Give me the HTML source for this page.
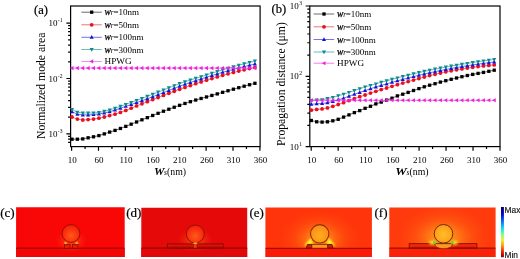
<!DOCTYPE html>
<html><head><meta charset="utf-8"><title>Figure</title>
<style>html,body{margin:0;padding:0;background:#fff}svg{display:block;filter:blur(0.3px)}</style></head>
<body>
<svg width="520" height="259" viewBox="0 0 520 259">
<rect width="520" height="259" fill="#fff"/>
<defs>
<linearGradient id="cb" x1="0" y1="0" x2="0" y2="1">
<stop offset="0" stop-color="#00006e"/><stop offset="0.14" stop-color="#0000d8"/><stop offset="0.3" stop-color="#0078ff"/>
<stop offset="0.42" stop-color="#00e0f0"/><stop offset="0.54" stop-color="#70ff90"/><stop offset="0.66" stop-color="#f0f020"/>
<stop offset="0.78" stop-color="#ff9000"/><stop offset="0.89" stop-color="#ff1400"/><stop offset="1" stop-color="#7a0000"/>
</linearGradient>
<radialGradient id="gc" cx="0.5" cy="0.62" r="0.6"><stop offset="0" stop-color="#ff5a18"/><stop offset="1" stop-color="#fb1a0a"/></radialGradient>
<radialGradient id="gd" cx="0.5" cy="0.62" r="0.6"><stop offset="0" stop-color="#ff5a18"/><stop offset="1" stop-color="#f61c0c"/></radialGradient>
<radialGradient id="ge" cx="0.5" cy="0.6" r="0.6"><stop offset="0" stop-color="#ffb020"/><stop offset="1" stop-color="#ff8614"/></radialGradient>
<radialGradient id="gf" cx="0.5" cy="0.55" r="0.6"><stop offset="0" stop-color="#ffc028"/><stop offset="1" stop-color="#ff9416"/></radialGradient>
<radialGradient id="glowc"><stop offset="0" stop-color="#ff6a18" stop-opacity="0.75"/><stop offset="1" stop-color="#ff3010" stop-opacity="0"/></radialGradient>
<radialGradient id="glowe"><stop offset="0" stop-color="#ff9618" stop-opacity="1"/><stop offset="0.3" stop-color="#ff7a14" stop-opacity="0.85"/><stop offset="0.6" stop-color="#ff5c10" stop-opacity="0.45"/><stop offset="1" stop-color="#ff440c" stop-opacity="0"/></radialGradient>
<radialGradient id="glowf"><stop offset="0" stop-color="#ffa41c" stop-opacity="1"/><stop offset="0.3" stop-color="#ff8416" stop-opacity="0.85"/><stop offset="0.6" stop-color="#ff6612" stop-opacity="0.45"/><stop offset="1" stop-color="#ff4c10" stop-opacity="0"/></radialGradient>
<radialGradient id="yel"><stop offset="0" stop-color="#fff62a"/><stop offset="0.55" stop-color="#ffe820" stop-opacity="0.95"/><stop offset="1" stop-color="#ffb010" stop-opacity="0"/></radialGradient>
<radialGradient id="grn"><stop offset="0" stop-color="#7cff38"/><stop offset="0.3" stop-color="#c8ff28"/><stop offset="0.6" stop-color="#fff020" stop-opacity="0.85"/><stop offset="1" stop-color="#ffb010" stop-opacity="0"/></radialGradient>
<radialGradient id="org"><stop offset="0" stop-color="#ffc030"/><stop offset="0.5" stop-color="#ff9020" stop-opacity="0.8"/><stop offset="1" stop-color="#ff5010" stop-opacity="0"/></radialGradient>
<clipPath id="cc"><rect x="16.1" y="207.3" width="108.6" height="49.7"/></clipPath>
<clipPath id="cd"><rect x="141.3" y="207.7" width="105.9" height="49.3"/></clipPath>
<clipPath id="ce"><rect x="265.4" y="207.6" width="106.5" height="49.4"/></clipPath>
<clipPath id="cf"><rect x="389.3" y="207.6" width="106.3" height="49.4"/></clipPath>
<filter id="bl" x="-50%" y="-50%" width="200%" height="200%"><feGaussianBlur stdDeviation="0.8"/></filter>
<filter id="bl2" x="-50%" y="-50%" width="200%" height="200%"><feGaussianBlur stdDeviation="0.45"/></filter>
</defs>
<rect x="70.6" y="6" width="189.50000000000003" height="140.6" fill="#fff" stroke="#000" stroke-width="1.2"/>
<path d="M71.60 146.6v4.2M85.05 146.6v2.5M98.50 146.6v4.2M111.95 146.6v2.5M125.40 146.6v4.2M138.85 146.6v2.5M152.30 146.6v4.2M165.75 146.6v2.5M179.20 146.6v4.2M192.65 146.6v2.5M206.10 146.6v4.2M219.55 146.6v2.5M233.00 146.6v4.2M246.45 146.6v2.5M259.90 146.6v4.2M70.6 23.15h-4.2M70.6 78.50h-4.2M70.6 133.85h-4.2M70.6 142.42h-2.5M70.6 139.21h-2.5M70.6 136.38h-2.5M70.6 117.19h-2.5M70.6 107.44h-2.5M70.6 100.53h-2.5M70.6 95.16h-2.5M70.6 90.78h-2.5M70.6 87.07h-2.5M70.6 83.86h-2.5M70.6 81.03h-2.5M70.6 61.84h-2.5M70.6 52.09h-2.5M70.6 45.18h-2.5M70.6 39.81h-2.5M70.6 35.43h-2.5M70.6 31.72h-2.5M70.6 28.51h-2.5M70.6 25.68h-2.5" stroke="#000" stroke-width="1.2" fill="none"/>
<g>
<path d="M72.00 139.20L77.38 139.20L82.76 138.90L88.14 137.80L93.52 136.80L98.90 135.60L104.28 133.90L109.66 132.10L115.04 130.40L120.42 128.46L125.80 126.36L131.18 124.18L136.56 121.97L141.94 119.80L147.32 117.65L152.70 115.48L158.08 113.32L163.46 111.23L168.84 109.22L174.22 107.24L179.60 105.32L184.98 103.47L190.36 101.70L195.74 100.04L201.12 98.47L206.50 96.95L211.88 95.44L217.26 93.90L222.64 92.32L228.02 90.75L233.40 89.20L238.78 87.69L244.16 86.20L249.54 84.74L254.92 83.30" stroke="#000000" stroke-width="0.6" fill="none"/><rect x="70.35" y="137.55" width="3.3" height="3.3" fill="#000000"/><rect x="75.73" y="137.55" width="3.3" height="3.3" fill="#000000"/><rect x="81.11" y="137.25" width="3.3" height="3.3" fill="#000000"/><rect x="86.49" y="136.15" width="3.3" height="3.3" fill="#000000"/><rect x="91.87" y="135.15" width="3.3" height="3.3" fill="#000000"/><rect x="97.25" y="133.95" width="3.3" height="3.3" fill="#000000"/><rect x="102.63" y="132.25" width="3.3" height="3.3" fill="#000000"/><rect x="108.01" y="130.45" width="3.3" height="3.3" fill="#000000"/><rect x="113.39" y="128.75" width="3.3" height="3.3" fill="#000000"/><rect x="118.77" y="126.81" width="3.3" height="3.3" fill="#000000"/><rect x="124.15" y="124.71" width="3.3" height="3.3" fill="#000000"/><rect x="129.53" y="122.53" width="3.3" height="3.3" fill="#000000"/><rect x="134.91" y="120.32" width="3.3" height="3.3" fill="#000000"/><rect x="140.29" y="118.15" width="3.3" height="3.3" fill="#000000"/><rect x="145.67" y="116.00" width="3.3" height="3.3" fill="#000000"/><rect x="151.05" y="113.83" width="3.3" height="3.3" fill="#000000"/><rect x="156.43" y="111.67" width="3.3" height="3.3" fill="#000000"/><rect x="161.81" y="109.58" width="3.3" height="3.3" fill="#000000"/><rect x="167.19" y="107.57" width="3.3" height="3.3" fill="#000000"/><rect x="172.57" y="105.59" width="3.3" height="3.3" fill="#000000"/><rect x="177.95" y="103.67" width="3.3" height="3.3" fill="#000000"/><rect x="183.33" y="101.82" width="3.3" height="3.3" fill="#000000"/><rect x="188.71" y="100.05" width="3.3" height="3.3" fill="#000000"/><rect x="194.09" y="98.39" width="3.3" height="3.3" fill="#000000"/><rect x="199.47" y="96.82" width="3.3" height="3.3" fill="#000000"/><rect x="204.85" y="95.30" width="3.3" height="3.3" fill="#000000"/><rect x="210.23" y="93.79" width="3.3" height="3.3" fill="#000000"/><rect x="215.61" y="92.25" width="3.3" height="3.3" fill="#000000"/><rect x="220.99" y="90.67" width="3.3" height="3.3" fill="#000000"/><rect x="226.37" y="89.10" width="3.3" height="3.3" fill="#000000"/><rect x="231.75" y="87.55" width="3.3" height="3.3" fill="#000000"/><rect x="237.13" y="86.04" width="3.3" height="3.3" fill="#000000"/><rect x="242.51" y="84.55" width="3.3" height="3.3" fill="#000000"/><rect x="247.89" y="83.09" width="3.3" height="3.3" fill="#000000"/><rect x="253.27" y="81.65" width="3.3" height="3.3" fill="#000000"/>
<path d="M72.00 117.00L77.38 119.10L82.76 120.00L88.14 119.60L93.52 119.10L98.90 118.20L104.28 117.00L109.66 115.60L115.04 114.20L120.42 112.43L125.80 110.39L131.18 108.20L136.56 105.96L141.94 103.80L147.32 101.70L152.70 99.59L158.08 97.48L163.46 95.40L168.84 93.33L174.22 91.27L179.60 89.30L184.98 87.41L190.36 85.55L195.74 83.72L201.12 81.94L206.50 80.21L211.88 78.53L217.26 76.90L222.64 75.32L228.02 73.81L233.40 72.38L238.78 71.04L244.16 69.78L249.54 68.60L254.92 67.50" stroke="#e8101e" stroke-width="0.6" fill="none"/><circle cx="72.00" cy="117.00" r="1.9" fill="#e8101e"/><circle cx="77.38" cy="119.10" r="1.9" fill="#e8101e"/><circle cx="82.76" cy="120.00" r="1.9" fill="#e8101e"/><circle cx="88.14" cy="119.60" r="1.9" fill="#e8101e"/><circle cx="93.52" cy="119.10" r="1.9" fill="#e8101e"/><circle cx="98.90" cy="118.20" r="1.9" fill="#e8101e"/><circle cx="104.28" cy="117.00" r="1.9" fill="#e8101e"/><circle cx="109.66" cy="115.60" r="1.9" fill="#e8101e"/><circle cx="115.04" cy="114.20" r="1.9" fill="#e8101e"/><circle cx="120.42" cy="112.43" r="1.9" fill="#e8101e"/><circle cx="125.80" cy="110.39" r="1.9" fill="#e8101e"/><circle cx="131.18" cy="108.20" r="1.9" fill="#e8101e"/><circle cx="136.56" cy="105.96" r="1.9" fill="#e8101e"/><circle cx="141.94" cy="103.80" r="1.9" fill="#e8101e"/><circle cx="147.32" cy="101.70" r="1.9" fill="#e8101e"/><circle cx="152.70" cy="99.59" r="1.9" fill="#e8101e"/><circle cx="158.08" cy="97.48" r="1.9" fill="#e8101e"/><circle cx="163.46" cy="95.40" r="1.9" fill="#e8101e"/><circle cx="168.84" cy="93.33" r="1.9" fill="#e8101e"/><circle cx="174.22" cy="91.27" r="1.9" fill="#e8101e"/><circle cx="179.60" cy="89.30" r="1.9" fill="#e8101e"/><circle cx="184.98" cy="87.41" r="1.9" fill="#e8101e"/><circle cx="190.36" cy="85.55" r="1.9" fill="#e8101e"/><circle cx="195.74" cy="83.72" r="1.9" fill="#e8101e"/><circle cx="201.12" cy="81.94" r="1.9" fill="#e8101e"/><circle cx="206.50" cy="80.21" r="1.9" fill="#e8101e"/><circle cx="211.88" cy="78.53" r="1.9" fill="#e8101e"/><circle cx="217.26" cy="76.90" r="1.9" fill="#e8101e"/><circle cx="222.64" cy="75.32" r="1.9" fill="#e8101e"/><circle cx="228.02" cy="73.81" r="1.9" fill="#e8101e"/><circle cx="233.40" cy="72.38" r="1.9" fill="#e8101e"/><circle cx="238.78" cy="71.04" r="1.9" fill="#e8101e"/><circle cx="244.16" cy="69.78" r="1.9" fill="#e8101e"/><circle cx="249.54" cy="68.60" r="1.9" fill="#e8101e"/><circle cx="254.92" cy="67.50" r="1.9" fill="#e8101e"/>
<path d="M72.00 111.80L77.38 114.20L82.76 114.90L88.14 114.90L93.52 114.60L98.90 113.90L104.28 113.00L109.66 111.80L115.04 110.00L120.42 108.18L125.80 106.35L131.18 104.50L136.56 102.62L141.94 100.70L147.32 98.73L152.70 96.72L158.08 94.67L163.46 92.60L168.84 90.45L174.22 88.26L179.60 86.20L184.98 84.28L190.36 82.43L195.74 80.63L201.12 78.89L206.50 77.19L211.88 75.53L217.26 73.90L222.64 72.31L228.02 70.78L233.40 69.31L238.78 67.90L244.16 66.55L249.54 65.24L254.92 64.00" stroke="#1414d8" stroke-width="0.6" fill="none"/><path d="M69.95 113.30L74.05 113.30L72.00 109.60Z" fill="#1414d8"/><path d="M75.33 115.70L79.43 115.70L77.38 112.00Z" fill="#1414d8"/><path d="M80.71 116.40L84.81 116.40L82.76 112.70Z" fill="#1414d8"/><path d="M86.09 116.40L90.19 116.40L88.14 112.70Z" fill="#1414d8"/><path d="M91.47 116.10L95.57 116.10L93.52 112.40Z" fill="#1414d8"/><path d="M96.85 115.40L100.95 115.40L98.90 111.70Z" fill="#1414d8"/><path d="M102.23 114.50L106.33 114.50L104.28 110.80Z" fill="#1414d8"/><path d="M107.61 113.30L111.71 113.30L109.66 109.60Z" fill="#1414d8"/><path d="M112.99 111.50L117.09 111.50L115.04 107.80Z" fill="#1414d8"/><path d="M118.37 109.68L122.47 109.68L120.42 105.98Z" fill="#1414d8"/><path d="M123.75 107.85L127.85 107.85L125.80 104.15Z" fill="#1414d8"/><path d="M129.13 106.00L133.23 106.00L131.18 102.30Z" fill="#1414d8"/><path d="M134.51 104.12L138.61 104.12L136.56 100.42Z" fill="#1414d8"/><path d="M139.89 102.20L143.99 102.20L141.94 98.50Z" fill="#1414d8"/><path d="M145.27 100.23L149.37 100.23L147.32 96.53Z" fill="#1414d8"/><path d="M150.65 98.22L154.75 98.22L152.70 94.52Z" fill="#1414d8"/><path d="M156.03 96.17L160.13 96.17L158.08 92.47Z" fill="#1414d8"/><path d="M161.41 94.10L165.51 94.10L163.46 90.40Z" fill="#1414d8"/><path d="M166.79 91.95L170.89 91.95L168.84 88.25Z" fill="#1414d8"/><path d="M172.17 89.76L176.27 89.76L174.22 86.06Z" fill="#1414d8"/><path d="M177.55 87.70L181.65 87.70L179.60 84.00Z" fill="#1414d8"/><path d="M182.93 85.78L187.03 85.78L184.98 82.08Z" fill="#1414d8"/><path d="M188.31 83.93L192.41 83.93L190.36 80.23Z" fill="#1414d8"/><path d="M193.69 82.13L197.79 82.13L195.74 78.43Z" fill="#1414d8"/><path d="M199.07 80.39L203.17 80.39L201.12 76.69Z" fill="#1414d8"/><path d="M204.45 78.69L208.55 78.69L206.50 74.99Z" fill="#1414d8"/><path d="M209.83 77.03L213.93 77.03L211.88 73.33Z" fill="#1414d8"/><path d="M215.21 75.40L219.31 75.40L217.26 71.70Z" fill="#1414d8"/><path d="M220.59 73.81L224.69 73.81L222.64 70.11Z" fill="#1414d8"/><path d="M225.97 72.28L230.07 72.28L228.02 68.58Z" fill="#1414d8"/><path d="M231.35 70.81L235.45 70.81L233.40 67.11Z" fill="#1414d8"/><path d="M236.73 69.40L240.83 69.40L238.78 65.70Z" fill="#1414d8"/><path d="M242.11 68.05L246.21 68.05L244.16 64.35Z" fill="#1414d8"/><path d="M247.49 66.74L251.59 66.74L249.54 63.04Z" fill="#1414d8"/><path d="M252.87 65.50L256.97 65.50L254.92 61.80Z" fill="#1414d8"/>
<path d="M72.00 109.50L77.38 112.20L82.76 113.00L88.14 113.00L93.52 113.00L98.90 112.50L104.28 111.30L109.66 110.00L115.04 108.20L120.42 106.32L125.80 104.39L131.18 102.42L136.56 100.42L141.94 98.40L147.32 96.34L152.70 94.24L158.08 92.12L163.46 90.00L168.84 87.83L174.22 85.64L179.60 83.60L184.98 81.76L190.36 80.04L195.74 78.36L201.12 76.63L206.50 74.89L211.88 73.17L217.26 71.50L222.64 69.88L228.02 68.29L233.40 66.75L238.78 65.27L244.16 63.83L249.54 62.44L254.92 61.10" stroke="#0a8a8a" stroke-width="0.6" fill="none"/><path d="M69.95 108.00L74.05 108.00L72.00 111.70Z" fill="#0a8a8a"/><path d="M75.33 110.70L79.43 110.70L77.38 114.40Z" fill="#0a8a8a"/><path d="M80.71 111.50L84.81 111.50L82.76 115.20Z" fill="#0a8a8a"/><path d="M86.09 111.50L90.19 111.50L88.14 115.20Z" fill="#0a8a8a"/><path d="M91.47 111.50L95.57 111.50L93.52 115.20Z" fill="#0a8a8a"/><path d="M96.85 111.00L100.95 111.00L98.90 114.70Z" fill="#0a8a8a"/><path d="M102.23 109.80L106.33 109.80L104.28 113.50Z" fill="#0a8a8a"/><path d="M107.61 108.50L111.71 108.50L109.66 112.20Z" fill="#0a8a8a"/><path d="M112.99 106.70L117.09 106.70L115.04 110.40Z" fill="#0a8a8a"/><path d="M118.37 104.82L122.47 104.82L120.42 108.52Z" fill="#0a8a8a"/><path d="M123.75 102.89L127.85 102.89L125.80 106.59Z" fill="#0a8a8a"/><path d="M129.13 100.92L133.23 100.92L131.18 104.62Z" fill="#0a8a8a"/><path d="M134.51 98.92L138.61 98.92L136.56 102.62Z" fill="#0a8a8a"/><path d="M139.89 96.90L143.99 96.90L141.94 100.60Z" fill="#0a8a8a"/><path d="M145.27 94.84L149.37 94.84L147.32 98.54Z" fill="#0a8a8a"/><path d="M150.65 92.74L154.75 92.74L152.70 96.44Z" fill="#0a8a8a"/><path d="M156.03 90.62L160.13 90.62L158.08 94.32Z" fill="#0a8a8a"/><path d="M161.41 88.50L165.51 88.50L163.46 92.20Z" fill="#0a8a8a"/><path d="M166.79 86.33L170.89 86.33L168.84 90.03Z" fill="#0a8a8a"/><path d="M172.17 84.14L176.27 84.14L174.22 87.84Z" fill="#0a8a8a"/><path d="M177.55 82.10L181.65 82.10L179.60 85.80Z" fill="#0a8a8a"/><path d="M182.93 80.26L187.03 80.26L184.98 83.96Z" fill="#0a8a8a"/><path d="M188.31 78.54L192.41 78.54L190.36 82.24Z" fill="#0a8a8a"/><path d="M193.69 76.86L197.79 76.86L195.74 80.56Z" fill="#0a8a8a"/><path d="M199.07 75.13L203.17 75.13L201.12 78.83Z" fill="#0a8a8a"/><path d="M204.45 73.39L208.55 73.39L206.50 77.09Z" fill="#0a8a8a"/><path d="M209.83 71.67L213.93 71.67L211.88 75.37Z" fill="#0a8a8a"/><path d="M215.21 70.00L219.31 70.00L217.26 73.70Z" fill="#0a8a8a"/><path d="M220.59 68.38L224.69 68.38L222.64 72.08Z" fill="#0a8a8a"/><path d="M225.97 66.79L230.07 66.79L228.02 70.49Z" fill="#0a8a8a"/><path d="M231.35 65.25L235.45 65.25L233.40 68.95Z" fill="#0a8a8a"/><path d="M236.73 63.77L240.83 63.77L238.78 67.47Z" fill="#0a8a8a"/><path d="M242.11 62.33L246.21 62.33L244.16 66.03Z" fill="#0a8a8a"/><path d="M247.49 60.94L251.59 60.94L249.54 64.64Z" fill="#0a8a8a"/><path d="M252.87 59.60L256.97 59.60L254.92 63.30Z" fill="#0a8a8a"/>
<path d="M72.00 68.10L77.38 68.10L82.76 68.10L88.14 68.10L93.52 68.10L98.90 68.10L104.28 68.10L109.66 68.10L115.04 68.10L120.42 68.10L125.80 68.10L131.18 68.10L136.56 68.10L141.94 68.10L147.32 68.10L152.70 68.10L158.08 68.10L163.46 68.10L168.84 68.10L174.22 68.10L179.60 68.10L184.98 68.10L190.36 68.10L195.74 68.10L201.12 68.10L206.50 68.10L211.88 68.10L217.26 68.10L222.64 68.10L228.02 68.10L233.40 68.10L238.78 68.10L244.16 68.10L249.54 68.10L254.92 68.10" stroke="#f020e0" stroke-width="0.6" fill="none"/><path d="M73.50 66.05L73.50 70.15L69.80 68.10Z" fill="#f020e0"/><path d="M78.88 66.05L78.88 70.15L75.18 68.10Z" fill="#f020e0"/><path d="M84.26 66.05L84.26 70.15L80.56 68.10Z" fill="#f020e0"/><path d="M89.64 66.05L89.64 70.15L85.94 68.10Z" fill="#f020e0"/><path d="M95.02 66.05L95.02 70.15L91.32 68.10Z" fill="#f020e0"/><path d="M100.40 66.05L100.40 70.15L96.70 68.10Z" fill="#f020e0"/><path d="M105.78 66.05L105.78 70.15L102.08 68.10Z" fill="#f020e0"/><path d="M111.16 66.05L111.16 70.15L107.46 68.10Z" fill="#f020e0"/><path d="M116.54 66.05L116.54 70.15L112.84 68.10Z" fill="#f020e0"/><path d="M121.92 66.05L121.92 70.15L118.22 68.10Z" fill="#f020e0"/><path d="M127.30 66.05L127.30 70.15L123.60 68.10Z" fill="#f020e0"/><path d="M132.68 66.05L132.68 70.15L128.98 68.10Z" fill="#f020e0"/><path d="M138.06 66.05L138.06 70.15L134.36 68.10Z" fill="#f020e0"/><path d="M143.44 66.05L143.44 70.15L139.74 68.10Z" fill="#f020e0"/><path d="M148.82 66.05L148.82 70.15L145.12 68.10Z" fill="#f020e0"/><path d="M154.20 66.05L154.20 70.15L150.50 68.10Z" fill="#f020e0"/><path d="M159.58 66.05L159.58 70.15L155.88 68.10Z" fill="#f020e0"/><path d="M164.96 66.05L164.96 70.15L161.26 68.10Z" fill="#f020e0"/><path d="M170.34 66.05L170.34 70.15L166.64 68.10Z" fill="#f020e0"/><path d="M175.72 66.05L175.72 70.15L172.02 68.10Z" fill="#f020e0"/><path d="M181.10 66.05L181.10 70.15L177.40 68.10Z" fill="#f020e0"/><path d="M186.48 66.05L186.48 70.15L182.78 68.10Z" fill="#f020e0"/><path d="M191.86 66.05L191.86 70.15L188.16 68.10Z" fill="#f020e0"/><path d="M197.24 66.05L197.24 70.15L193.54 68.10Z" fill="#f020e0"/><path d="M202.62 66.05L202.62 70.15L198.92 68.10Z" fill="#f020e0"/><path d="M208.00 66.05L208.00 70.15L204.30 68.10Z" fill="#f020e0"/><path d="M213.38 66.05L213.38 70.15L209.68 68.10Z" fill="#f020e0"/><path d="M218.76 66.05L218.76 70.15L215.06 68.10Z" fill="#f020e0"/><path d="M224.14 66.05L224.14 70.15L220.44 68.10Z" fill="#f020e0"/><path d="M229.52 66.05L229.52 70.15L225.82 68.10Z" fill="#f020e0"/><path d="M234.90 66.05L234.90 70.15L231.20 68.10Z" fill="#f020e0"/><path d="M240.28 66.05L240.28 70.15L236.58 68.10Z" fill="#f020e0"/><path d="M245.66 66.05L245.66 70.15L241.96 68.10Z" fill="#f020e0"/><path d="M251.04 66.05L251.04 70.15L247.34 68.10Z" fill="#f020e0"/><path d="M256.42 66.05L256.42 70.15L252.72 68.10Z" fill="#f020e0"/>
</g>
<g font-family="'Liberation Serif', serif" fill="#000">
<path d="M81.3 12.2H101.8" stroke="#000000" stroke-width="0.65" opacity="0.9"/><rect x="90.05" y="10.55" width="3.3" height="3.3" fill="#000000"/><text x="104.6" y="15.2" font-size="9"><tspan font-style="italic" font-size="9.6" stroke="#000" stroke-width="0.25">w</tspan><tspan font-style="italic" font-size="7.4" dx="-0.2">r</tspan><tspan dx="-0.3">=10nm</tspan></text><path d="M81.3 24.8H101.8" stroke="#e8101e" stroke-width="0.65" opacity="0.9"/><circle cx="91.70" cy="24.80" r="1.9" fill="#e8101e"/><text x="104.6" y="27.8" font-size="9"><tspan font-style="italic" font-size="9.6" stroke="#000" stroke-width="0.25">w</tspan><tspan font-style="italic" font-size="7.4" dx="-0.2">r</tspan><tspan dx="-0.3">=50nm</tspan></text><path d="M81.3 37.3H101.8" stroke="#1414d8" stroke-width="0.65" opacity="0.9"/><path d="M89.65 38.80L93.75 38.80L91.70 35.10Z" fill="#1414d8"/><text x="104.6" y="40.3" font-size="9"><tspan font-style="italic" font-size="9.6" stroke="#000" stroke-width="0.25">w</tspan><tspan font-style="italic" font-size="7.4" dx="-0.2">r</tspan><tspan dx="-0.3">=100nm</tspan></text><path d="M81.3 49.5H101.8" stroke="#0a8a8a" stroke-width="0.65" opacity="0.9"/><path d="M89.65 48.00L93.75 48.00L91.70 51.70Z" fill="#0a8a8a"/><text x="104.6" y="52.5" font-size="9"><tspan font-style="italic" font-size="9.6" stroke="#000" stroke-width="0.25">w</tspan><tspan font-style="italic" font-size="7.4" dx="-0.2">r</tspan><tspan dx="-0.3">=300nm</tspan></text><path d="M81.3 61.4H101.8" stroke="#f020e0" stroke-width="0.65" opacity="0.9"/><path d="M93.20 59.35L93.20 63.45L89.50 61.40Z" fill="#f020e0"/><text x="104.6" y="64.4" font-size="9.2">HPWG</text>
</g>
<g font-family="'Liberation Serif', serif" font-size="9" fill="#000">
<text x="72.20" y="162.5" text-anchor="middle">10</text><text x="99.10" y="162.5" text-anchor="middle">60</text><text x="126.00" y="162.5" text-anchor="middle">110</text><text x="152.90" y="162.5" text-anchor="middle">160</text><text x="179.80" y="162.5" text-anchor="middle">210</text><text x="206.70" y="162.5" text-anchor="middle">260</text><text x="233.60" y="162.5" text-anchor="middle">310</text><text x="260.50" y="162.5" text-anchor="middle">360</text>
<text x="48.6" y="26.3">10<tspan font-size="5.6" dy="-4.0" dx="0.2">-1</tspan></text>
<text x="48.6" y="81.7">10<tspan font-size="5.6" dy="-4.0" dx="0.2">-2</tspan></text>
<text x="48.6" y="137.0">10<tspan font-size="5.6" dy="-4.0" dx="0.2">-3</tspan></text>
</g>
<text font-family="'Liberation Serif', serif" font-size="12.6" x="34" y="13.6" stroke="#000" stroke-width="0.2">(a)</text>
<text font-family="'Liberation Serif', serif" font-size="11.7" text-anchor="middle" transform="translate(45.2 85.8) rotate(-90)">Normalized mode area</text>
<g font-family="'Liberation Serif', serif" fill="#000"><text transform="translate(154.0 174.7) scale(1.2 1)" font-size="9.8" font-style="italic" font-weight="bold">W</text><text x="164.1" y="174.9" font-size="7.6" font-style="italic">s</text><text x="167.0" y="174.7" font-size="9.8">(nm)</text></g>
<rect x="309.8" y="6" width="190.2" height="140.6" fill="#fff" stroke="#000" stroke-width="1.2"/>
<path d="M311.20 146.6v4.2M324.69 146.6v2.5M338.17 146.6v4.2M351.66 146.6v2.5M365.14 146.6v4.2M378.63 146.6v2.5M392.11 146.6v4.2M405.60 146.6v2.5M419.09 146.6v4.2M432.57 146.6v2.5M446.06 146.6v4.2M459.54 146.6v2.5M473.03 146.6v4.2M486.51 146.6v2.5M500.00 146.6v4.2M309.8 6.00h-4.2M309.8 76.30h-4.2M309.8 146.60h-4.2M309.8 125.44h-2.5M309.8 113.06h-2.5M309.8 104.28h-2.5M309.8 97.46h-2.5M309.8 91.90h-2.5M309.8 87.19h-2.5M309.8 83.11h-2.5M309.8 79.52h-2.5M309.8 55.14h-2.5M309.8 42.76h-2.5M309.8 33.98h-2.5M309.8 27.16h-2.5M309.8 21.60h-2.5M309.8 16.89h-2.5M309.8 12.81h-2.5M309.8 9.22h-2.5" stroke="#000" stroke-width="1.2" fill="none"/>
<g>
<path d="M311.30 120.50L316.68 121.80L322.06 122.10L327.44 121.80L332.82 120.80L338.20 119.30L343.58 117.10L348.96 114.90L354.34 112.60L359.72 110.60L365.10 108.30L370.48 106.30L375.86 103.90L381.24 102.10L386.62 100.10L392.00 98.20L397.38 95.90L402.76 94.20L408.14 92.40L413.52 90.50L418.90 88.60L424.28 86.80L429.66 85.20L435.04 83.70L440.42 82.10L445.80 80.70L451.18 79.30L456.56 78.00L461.94 76.70L467.32 75.50L472.70 74.40L478.08 73.40L483.46 72.40L488.84 71.30L494.22 70.20" stroke="#000000" stroke-width="0.6" fill="none"/><rect x="309.65" y="118.85" width="3.3" height="3.3" fill="#000000"/><rect x="315.03" y="120.15" width="3.3" height="3.3" fill="#000000"/><rect x="320.41" y="120.45" width="3.3" height="3.3" fill="#000000"/><rect x="325.79" y="120.15" width="3.3" height="3.3" fill="#000000"/><rect x="331.17" y="119.15" width="3.3" height="3.3" fill="#000000"/><rect x="336.55" y="117.65" width="3.3" height="3.3" fill="#000000"/><rect x="341.93" y="115.45" width="3.3" height="3.3" fill="#000000"/><rect x="347.31" y="113.25" width="3.3" height="3.3" fill="#000000"/><rect x="352.69" y="110.95" width="3.3" height="3.3" fill="#000000"/><rect x="358.07" y="108.95" width="3.3" height="3.3" fill="#000000"/><rect x="363.45" y="106.65" width="3.3" height="3.3" fill="#000000"/><rect x="368.83" y="104.65" width="3.3" height="3.3" fill="#000000"/><rect x="374.21" y="102.25" width="3.3" height="3.3" fill="#000000"/><rect x="379.59" y="100.45" width="3.3" height="3.3" fill="#000000"/><rect x="384.97" y="98.45" width="3.3" height="3.3" fill="#000000"/><rect x="390.35" y="96.55" width="3.3" height="3.3" fill="#000000"/><rect x="395.73" y="94.25" width="3.3" height="3.3" fill="#000000"/><rect x="401.11" y="92.55" width="3.3" height="3.3" fill="#000000"/><rect x="406.49" y="90.75" width="3.3" height="3.3" fill="#000000"/><rect x="411.87" y="88.85" width="3.3" height="3.3" fill="#000000"/><rect x="417.25" y="86.95" width="3.3" height="3.3" fill="#000000"/><rect x="422.63" y="85.15" width="3.3" height="3.3" fill="#000000"/><rect x="428.01" y="83.55" width="3.3" height="3.3" fill="#000000"/><rect x="433.39" y="82.05" width="3.3" height="3.3" fill="#000000"/><rect x="438.77" y="80.45" width="3.3" height="3.3" fill="#000000"/><rect x="444.15" y="79.05" width="3.3" height="3.3" fill="#000000"/><rect x="449.53" y="77.65" width="3.3" height="3.3" fill="#000000"/><rect x="454.91" y="76.35" width="3.3" height="3.3" fill="#000000"/><rect x="460.29" y="75.05" width="3.3" height="3.3" fill="#000000"/><rect x="465.67" y="73.85" width="3.3" height="3.3" fill="#000000"/><rect x="471.05" y="72.75" width="3.3" height="3.3" fill="#000000"/><rect x="476.43" y="71.75" width="3.3" height="3.3" fill="#000000"/><rect x="481.81" y="70.75" width="3.3" height="3.3" fill="#000000"/><rect x="487.19" y="69.65" width="3.3" height="3.3" fill="#000000"/><rect x="492.57" y="68.55" width="3.3" height="3.3" fill="#000000"/>
<path d="M311.30 110.20L316.68 109.40L322.06 108.90L327.44 107.90L332.82 106.30L338.20 104.50L343.58 102.70L348.96 100.60L354.34 98.60L359.72 96.70L365.10 95.00L370.48 93.10L375.86 91.30L381.24 89.60L386.62 88.00L392.00 86.30L397.38 84.70L402.76 83.10L408.14 81.60L413.52 80.07L418.90 78.51L424.28 77.00L429.66 75.60L435.04 74.30L440.42 73.04L445.80 71.85L451.18 70.76L456.56 69.80L461.94 68.93L467.32 68.10L472.70 67.32L478.08 66.60L483.46 65.95L488.84 65.38L494.22 64.90" stroke="#e8101e" stroke-width="0.6" fill="none"/><circle cx="311.30" cy="110.20" r="1.9" fill="#e8101e"/><circle cx="316.68" cy="109.40" r="1.9" fill="#e8101e"/><circle cx="322.06" cy="108.90" r="1.9" fill="#e8101e"/><circle cx="327.44" cy="107.90" r="1.9" fill="#e8101e"/><circle cx="332.82" cy="106.30" r="1.9" fill="#e8101e"/><circle cx="338.20" cy="104.50" r="1.9" fill="#e8101e"/><circle cx="343.58" cy="102.70" r="1.9" fill="#e8101e"/><circle cx="348.96" cy="100.60" r="1.9" fill="#e8101e"/><circle cx="354.34" cy="98.60" r="1.9" fill="#e8101e"/><circle cx="359.72" cy="96.70" r="1.9" fill="#e8101e"/><circle cx="365.10" cy="95.00" r="1.9" fill="#e8101e"/><circle cx="370.48" cy="93.10" r="1.9" fill="#e8101e"/><circle cx="375.86" cy="91.30" r="1.9" fill="#e8101e"/><circle cx="381.24" cy="89.60" r="1.9" fill="#e8101e"/><circle cx="386.62" cy="88.00" r="1.9" fill="#e8101e"/><circle cx="392.00" cy="86.30" r="1.9" fill="#e8101e"/><circle cx="397.38" cy="84.70" r="1.9" fill="#e8101e"/><circle cx="402.76" cy="83.10" r="1.9" fill="#e8101e"/><circle cx="408.14" cy="81.60" r="1.9" fill="#e8101e"/><circle cx="413.52" cy="80.07" r="1.9" fill="#e8101e"/><circle cx="418.90" cy="78.51" r="1.9" fill="#e8101e"/><circle cx="424.28" cy="77.00" r="1.9" fill="#e8101e"/><circle cx="429.66" cy="75.60" r="1.9" fill="#e8101e"/><circle cx="435.04" cy="74.30" r="1.9" fill="#e8101e"/><circle cx="440.42" cy="73.04" r="1.9" fill="#e8101e"/><circle cx="445.80" cy="71.85" r="1.9" fill="#e8101e"/><circle cx="451.18" cy="70.76" r="1.9" fill="#e8101e"/><circle cx="456.56" cy="69.80" r="1.9" fill="#e8101e"/><circle cx="461.94" cy="68.93" r="1.9" fill="#e8101e"/><circle cx="467.32" cy="68.10" r="1.9" fill="#e8101e"/><circle cx="472.70" cy="67.32" r="1.9" fill="#e8101e"/><circle cx="478.08" cy="66.60" r="1.9" fill="#e8101e"/><circle cx="483.46" cy="65.95" r="1.9" fill="#e8101e"/><circle cx="488.84" cy="65.38" r="1.9" fill="#e8101e"/><circle cx="494.22" cy="64.90" r="1.9" fill="#e8101e"/>
<path d="M311.30 104.30L316.68 103.80L322.06 103.50L327.44 102.80L332.82 101.40L338.20 99.80L343.58 98.20L348.96 96.20L354.34 94.20L359.72 92.40L365.10 90.50L370.48 88.80L375.86 86.90L381.24 85.40L386.62 83.90L392.00 82.30L397.38 80.80L402.76 79.38L408.14 77.98L413.52 76.61L418.90 75.28L424.28 74.01L429.66 72.80L435.04 71.64L440.42 70.52L445.80 69.46L451.18 68.45L456.56 67.50L461.94 66.60L467.32 65.74L472.70 64.90L478.08 64.11L483.46 63.36L488.84 62.65L494.22 62.00" stroke="#1414d8" stroke-width="0.6" fill="none"/><path d="M309.25 105.80L313.35 105.80L311.30 102.10Z" fill="#1414d8"/><path d="M314.63 105.30L318.73 105.30L316.68 101.60Z" fill="#1414d8"/><path d="M320.01 105.00L324.11 105.00L322.06 101.30Z" fill="#1414d8"/><path d="M325.39 104.30L329.49 104.30L327.44 100.60Z" fill="#1414d8"/><path d="M330.77 102.90L334.87 102.90L332.82 99.20Z" fill="#1414d8"/><path d="M336.15 101.30L340.25 101.30L338.20 97.60Z" fill="#1414d8"/><path d="M341.53 99.70L345.63 99.70L343.58 96.00Z" fill="#1414d8"/><path d="M346.91 97.70L351.01 97.70L348.96 94.00Z" fill="#1414d8"/><path d="M352.29 95.70L356.39 95.70L354.34 92.00Z" fill="#1414d8"/><path d="M357.67 93.90L361.77 93.90L359.72 90.20Z" fill="#1414d8"/><path d="M363.05 92.00L367.15 92.00L365.10 88.30Z" fill="#1414d8"/><path d="M368.43 90.30L372.53 90.30L370.48 86.60Z" fill="#1414d8"/><path d="M373.81 88.40L377.91 88.40L375.86 84.70Z" fill="#1414d8"/><path d="M379.19 86.90L383.29 86.90L381.24 83.20Z" fill="#1414d8"/><path d="M384.57 85.40L388.67 85.40L386.62 81.70Z" fill="#1414d8"/><path d="M389.95 83.80L394.05 83.80L392.00 80.10Z" fill="#1414d8"/><path d="M395.33 82.30L399.43 82.30L397.38 78.60Z" fill="#1414d8"/><path d="M400.71 80.88L404.81 80.88L402.76 77.18Z" fill="#1414d8"/><path d="M406.09 79.48L410.19 79.48L408.14 75.78Z" fill="#1414d8"/><path d="M411.47 78.11L415.57 78.11L413.52 74.41Z" fill="#1414d8"/><path d="M416.85 76.78L420.95 76.78L418.90 73.08Z" fill="#1414d8"/><path d="M422.23 75.51L426.33 75.51L424.28 71.81Z" fill="#1414d8"/><path d="M427.61 74.30L431.71 74.30L429.66 70.60Z" fill="#1414d8"/><path d="M432.99 73.14L437.09 73.14L435.04 69.44Z" fill="#1414d8"/><path d="M438.37 72.02L442.47 72.02L440.42 68.32Z" fill="#1414d8"/><path d="M443.75 70.96L447.85 70.96L445.80 67.26Z" fill="#1414d8"/><path d="M449.13 69.95L453.23 69.95L451.18 66.25Z" fill="#1414d8"/><path d="M454.51 69.00L458.61 69.00L456.56 65.30Z" fill="#1414d8"/><path d="M459.89 68.10L463.99 68.10L461.94 64.40Z" fill="#1414d8"/><path d="M465.27 67.24L469.37 67.24L467.32 63.54Z" fill="#1414d8"/><path d="M470.65 66.40L474.75 66.40L472.70 62.70Z" fill="#1414d8"/><path d="M476.03 65.61L480.13 65.61L478.08 61.91Z" fill="#1414d8"/><path d="M481.41 64.86L485.51 64.86L483.46 61.16Z" fill="#1414d8"/><path d="M486.79 64.15L490.89 64.15L488.84 60.45Z" fill="#1414d8"/><path d="M492.17 63.50L496.27 63.50L494.22 59.80Z" fill="#1414d8"/>
<path d="M311.30 100.40L316.68 100.00L322.06 99.70L327.44 98.60L332.82 97.40L338.20 95.80L343.58 94.20L348.96 92.40L354.34 90.50L359.72 88.80L365.10 86.90L370.48 85.40L375.86 83.90L381.24 82.20L386.62 80.80L392.00 79.34L397.38 77.90L402.76 76.53L408.14 75.18L413.52 73.86L418.90 72.58L424.28 71.36L429.66 70.20L435.04 69.11L440.42 68.07L445.80 67.08L451.18 66.12L456.56 65.20L461.94 64.30L467.32 63.42L472.70 62.56L478.08 61.73L483.46 60.92L488.84 60.15L494.22 59.40" stroke="#0a8a8a" stroke-width="0.6" fill="none"/><path d="M309.25 98.90L313.35 98.90L311.30 102.60Z" fill="#0a8a8a"/><path d="M314.63 98.50L318.73 98.50L316.68 102.20Z" fill="#0a8a8a"/><path d="M320.01 98.20L324.11 98.20L322.06 101.90Z" fill="#0a8a8a"/><path d="M325.39 97.10L329.49 97.10L327.44 100.80Z" fill="#0a8a8a"/><path d="M330.77 95.90L334.87 95.90L332.82 99.60Z" fill="#0a8a8a"/><path d="M336.15 94.30L340.25 94.30L338.20 98.00Z" fill="#0a8a8a"/><path d="M341.53 92.70L345.63 92.70L343.58 96.40Z" fill="#0a8a8a"/><path d="M346.91 90.90L351.01 90.90L348.96 94.60Z" fill="#0a8a8a"/><path d="M352.29 89.00L356.39 89.00L354.34 92.70Z" fill="#0a8a8a"/><path d="M357.67 87.30L361.77 87.30L359.72 91.00Z" fill="#0a8a8a"/><path d="M363.05 85.40L367.15 85.40L365.10 89.10Z" fill="#0a8a8a"/><path d="M368.43 83.90L372.53 83.90L370.48 87.60Z" fill="#0a8a8a"/><path d="M373.81 82.40L377.91 82.40L375.86 86.10Z" fill="#0a8a8a"/><path d="M379.19 80.70L383.29 80.70L381.24 84.40Z" fill="#0a8a8a"/><path d="M384.57 79.30L388.67 79.30L386.62 83.00Z" fill="#0a8a8a"/><path d="M389.95 77.84L394.05 77.84L392.00 81.54Z" fill="#0a8a8a"/><path d="M395.33 76.40L399.43 76.40L397.38 80.10Z" fill="#0a8a8a"/><path d="M400.71 75.03L404.81 75.03L402.76 78.73Z" fill="#0a8a8a"/><path d="M406.09 73.68L410.19 73.68L408.14 77.38Z" fill="#0a8a8a"/><path d="M411.47 72.36L415.57 72.36L413.52 76.06Z" fill="#0a8a8a"/><path d="M416.85 71.08L420.95 71.08L418.90 74.78Z" fill="#0a8a8a"/><path d="M422.23 69.86L426.33 69.86L424.28 73.56Z" fill="#0a8a8a"/><path d="M427.61 68.70L431.71 68.70L429.66 72.40Z" fill="#0a8a8a"/><path d="M432.99 67.61L437.09 67.61L435.04 71.31Z" fill="#0a8a8a"/><path d="M438.37 66.57L442.47 66.57L440.42 70.27Z" fill="#0a8a8a"/><path d="M443.75 65.58L447.85 65.58L445.80 69.28Z" fill="#0a8a8a"/><path d="M449.13 64.62L453.23 64.62L451.18 68.32Z" fill="#0a8a8a"/><path d="M454.51 63.70L458.61 63.70L456.56 67.40Z" fill="#0a8a8a"/><path d="M459.89 62.80L463.99 62.80L461.94 66.50Z" fill="#0a8a8a"/><path d="M465.27 61.92L469.37 61.92L467.32 65.62Z" fill="#0a8a8a"/><path d="M470.65 61.06L474.75 61.06L472.70 64.76Z" fill="#0a8a8a"/><path d="M476.03 60.23L480.13 60.23L478.08 63.93Z" fill="#0a8a8a"/><path d="M481.41 59.42L485.51 59.42L483.46 63.12Z" fill="#0a8a8a"/><path d="M486.79 58.65L490.89 58.65L488.84 62.35Z" fill="#0a8a8a"/><path d="M492.17 57.90L496.27 57.90L494.22 61.60Z" fill="#0a8a8a"/>
<path d="M311.30 100.30L316.68 100.30L322.06 100.30L327.44 100.30L332.82 100.30L338.20 100.30L343.58 100.30L348.96 100.30L354.34 100.30L359.72 100.30L365.10 100.30L370.48 100.30L375.86 100.30L381.24 100.30L386.62 100.30L392.00 100.30L397.38 100.30L402.76 100.30L408.14 100.30L413.52 100.30L418.90 100.30L424.28 100.30L429.66 100.30L435.04 100.30L440.42 100.30L445.80 100.30L451.18 100.30L456.56 100.30L461.94 100.30L467.32 100.30L472.70 100.30L478.08 100.30L483.46 100.30L488.84 100.30L494.22 100.30" stroke="#f020e0" stroke-width="0.6" fill="none"/><path d="M312.80 98.25L312.80 102.35L309.10 100.30Z" fill="#f020e0"/><path d="M318.18 98.25L318.18 102.35L314.48 100.30Z" fill="#f020e0"/><path d="M323.56 98.25L323.56 102.35L319.86 100.30Z" fill="#f020e0"/><path d="M328.94 98.25L328.94 102.35L325.24 100.30Z" fill="#f020e0"/><path d="M334.32 98.25L334.32 102.35L330.62 100.30Z" fill="#f020e0"/><path d="M339.70 98.25L339.70 102.35L336.00 100.30Z" fill="#f020e0"/><path d="M345.08 98.25L345.08 102.35L341.38 100.30Z" fill="#f020e0"/><path d="M350.46 98.25L350.46 102.35L346.76 100.30Z" fill="#f020e0"/><path d="M355.84 98.25L355.84 102.35L352.14 100.30Z" fill="#f020e0"/><path d="M361.22 98.25L361.22 102.35L357.52 100.30Z" fill="#f020e0"/><path d="M366.60 98.25L366.60 102.35L362.90 100.30Z" fill="#f020e0"/><path d="M371.98 98.25L371.98 102.35L368.28 100.30Z" fill="#f020e0"/><path d="M377.36 98.25L377.36 102.35L373.66 100.30Z" fill="#f020e0"/><path d="M382.74 98.25L382.74 102.35L379.04 100.30Z" fill="#f020e0"/><path d="M388.12 98.25L388.12 102.35L384.42 100.30Z" fill="#f020e0"/><path d="M393.50 98.25L393.50 102.35L389.80 100.30Z" fill="#f020e0"/><path d="M398.88 98.25L398.88 102.35L395.18 100.30Z" fill="#f020e0"/><path d="M404.26 98.25L404.26 102.35L400.56 100.30Z" fill="#f020e0"/><path d="M409.64 98.25L409.64 102.35L405.94 100.30Z" fill="#f020e0"/><path d="M415.02 98.25L415.02 102.35L411.32 100.30Z" fill="#f020e0"/><path d="M420.40 98.25L420.40 102.35L416.70 100.30Z" fill="#f020e0"/><path d="M425.78 98.25L425.78 102.35L422.08 100.30Z" fill="#f020e0"/><path d="M431.16 98.25L431.16 102.35L427.46 100.30Z" fill="#f020e0"/><path d="M436.54 98.25L436.54 102.35L432.84 100.30Z" fill="#f020e0"/><path d="M441.92 98.25L441.92 102.35L438.22 100.30Z" fill="#f020e0"/><path d="M447.30 98.25L447.30 102.35L443.60 100.30Z" fill="#f020e0"/><path d="M452.68 98.25L452.68 102.35L448.98 100.30Z" fill="#f020e0"/><path d="M458.06 98.25L458.06 102.35L454.36 100.30Z" fill="#f020e0"/><path d="M463.44 98.25L463.44 102.35L459.74 100.30Z" fill="#f020e0"/><path d="M468.82 98.25L468.82 102.35L465.12 100.30Z" fill="#f020e0"/><path d="M474.20 98.25L474.20 102.35L470.50 100.30Z" fill="#f020e0"/><path d="M479.58 98.25L479.58 102.35L475.88 100.30Z" fill="#f020e0"/><path d="M484.96 98.25L484.96 102.35L481.26 100.30Z" fill="#f020e0"/><path d="M490.34 98.25L490.34 102.35L486.64 100.30Z" fill="#f020e0"/><path d="M495.72 98.25L495.72 102.35L492.02 100.30Z" fill="#f020e0"/>
</g>
<g font-family="'Liberation Serif', serif" fill="#000">
<path d="M313.6 14H334.2" stroke="#000000" stroke-width="0.65" opacity="0.9"/><rect x="322.35" y="12.35" width="3.3" height="3.3" fill="#000000"/><text x="337" y="17.0" font-size="9"><tspan font-style="italic" font-size="9.6" stroke="#000" stroke-width="0.25">w</tspan><tspan font-style="italic" font-size="7.4" dx="-0.2">r</tspan><tspan dx="-0.3">=10nm</tspan></text><path d="M313.6 26.8H334.2" stroke="#e8101e" stroke-width="0.65" opacity="0.9"/><circle cx="324.00" cy="26.80" r="1.9" fill="#e8101e"/><text x="337" y="29.8" font-size="9"><tspan font-style="italic" font-size="9.6" stroke="#000" stroke-width="0.25">w</tspan><tspan font-style="italic" font-size="7.4" dx="-0.2">r</tspan><tspan dx="-0.3">=50nm</tspan></text><path d="M313.6 39.5H334.2" stroke="#1414d8" stroke-width="0.65" opacity="0.9"/><path d="M321.95 41.00L326.05 41.00L324.00 37.30Z" fill="#1414d8"/><text x="337" y="42.5" font-size="9"><tspan font-style="italic" font-size="9.6" stroke="#000" stroke-width="0.25">w</tspan><tspan font-style="italic" font-size="7.4" dx="-0.2">r</tspan><tspan dx="-0.3">=100nm</tspan></text><path d="M313.6 52H334.2" stroke="#0a8a8a" stroke-width="0.65" opacity="0.9"/><path d="M321.95 50.50L326.05 50.50L324.00 54.20Z" fill="#0a8a8a"/><text x="337" y="55.0" font-size="9"><tspan font-style="italic" font-size="9.6" stroke="#000" stroke-width="0.25">w</tspan><tspan font-style="italic" font-size="7.4" dx="-0.2">r</tspan><tspan dx="-0.3">=300nm</tspan></text><path d="M313.6 63.2H334.2" stroke="#f020e0" stroke-width="0.65" opacity="0.9"/><path d="M325.50 61.15L325.50 65.25L321.80 63.20Z" fill="#f020e0"/><text x="337" y="66.2" font-size="9.2">HPWG</text>
</g>
<g font-family="'Liberation Serif', serif" font-size="9" fill="#000">
<text x="311.80" y="162.6" text-anchor="middle">10</text><text x="338.77" y="162.6" text-anchor="middle">60</text><text x="365.74" y="162.6" text-anchor="middle">110</text><text x="392.71" y="162.6" text-anchor="middle">160</text><text x="419.69" y="162.6" text-anchor="middle">210</text><text x="446.66" y="162.6" text-anchor="middle">260</text><text x="473.63" y="162.6" text-anchor="middle">310</text><text x="500.60" y="162.6" text-anchor="middle">360</text>
<text x="289.8" y="9.1">10<tspan font-size="5.6" dy="-4.0" dx="0.4">3</tspan></text>
<text x="289.8" y="79.4">10<tspan font-size="5.6" dy="-4.0" dx="0.4">2</tspan></text>
<text x="289.8" y="149.7">10<tspan font-size="5.6" dy="-4.0" dx="0.4">1</tspan></text>
</g>
<text font-family="'Liberation Serif', serif" font-size="12.6" x="271.6" y="13.2" stroke="#000" stroke-width="0.2">(b)</text>
<text font-family="'Liberation Serif', serif" font-size="11.7" text-anchor="middle" transform="translate(285.3 84.1) rotate(-90)">Propagation distance (μm)</text>
<g font-family="'Liberation Serif', serif" fill="#000"><text transform="translate(395.2 175.1) scale(1.33 1)" font-size="9.8" font-style="italic" font-weight="bold">W</text><text x="406.5" y="175.3" font-size="7.6" font-style="italic">s</text><text x="409.5" y="175.1" font-size="9.8">(nm)</text></g>

<!-- panel c -->
<g clip-path="url(#cc)">
<rect x="16" y="207" width="109" height="51" fill="#f90606"/>
<rect x="16" y="248.2" width="109" height="9.6" fill="#f20606"/>
<ellipse cx="71.2" cy="241" rx="16" ry="12" fill="url(#glowc)"/>
<path d="M16.2 248.2H124.7" stroke="#8a0400" stroke-width="0.9"/>
<circle cx="71.0" cy="233.5" r="8.9" fill="url(#gc)" stroke="#8a1200" stroke-width="0.9"/>
<circle cx="65.6" cy="243.2" r="2.4" fill="url(#org)"/><circle cx="76.8" cy="243.2" r="2.4" fill="url(#org)"/>
<rect x="64.6" y="244.5" width="5.4" height="3.7" fill="#f01808" stroke="#7a1400" stroke-width="0.7"/>
<rect x="72.6" y="244.5" width="5.4" height="3.7" fill="#f01808" stroke="#7a1400" stroke-width="0.7"/>
</g>
<!-- panel d -->
<g clip-path="url(#cd)">
<rect x="141" y="207" width="107" height="51" fill="#e50909"/>
<rect x="141" y="248.1" width="107" height="9.7" fill="#e00808"/>
<ellipse cx="195.3" cy="240" rx="18" ry="13" fill="url(#glowc)"/>
<rect x="167.3" y="243.9" width="55.9" height="4.2" fill="#de0e08" stroke="#7a0a00" stroke-width="0.8"/>
<path d="M170 246.6H192M199 246.6H221" stroke="#8a1000" stroke-width="0.6" stroke-dasharray="1.2 1"/>
<path d="M141 248.1H248" stroke="#800400" stroke-width="0.9"/>
<rect x="193.4" y="244.0" width="3.6" height="4.1" fill="#ee4012" stroke="#7a1800" stroke-width="0.7"/>
<circle cx="195.3" cy="234" r="9.0" fill="url(#gd)" stroke="#861200" stroke-width="0.9"/>
<ellipse cx="195.3" cy="243.3" rx="3.4" ry="1.6" fill="url(#org)"/>
</g>
<!-- panel e -->
<g clip-path="url(#ce)">
<rect x="265" y="207" width="108" height="51" fill="#ff340a"/>
<ellipse cx="319.7" cy="239" rx="42" ry="30" fill="url(#glowe)"/>
<rect x="265.4" y="248.2" width="106.5" height="9.6" fill="#f91a08"/>
<g filter="url(#bl)">
<path d="M304.0 245.6L313.2 245.6L311.2 237.6Z" fill="#fff628"/>
<path d="M335.4 245.6L326.2 245.6L328.2 237.6Z" fill="#fff628"/>
</g>
<rect x="311" y="244.4" width="17.4" height="3.8" fill="#ff9620"/>
<path d="M307.4 244.5H311.8V248.2H306.3Z" fill="#d41a08" stroke="#6a1000" stroke-width="0.8"/>
<path d="M327.6 244.5H332L333.1 248.2H327.6Z" fill="#d41a08" stroke="#6a1000" stroke-width="0.8"/>
<path d="M307.2 244.4H332.2" stroke="#702000" stroke-width="0.8"/>
<path d="M265.4 248.3H371.9" stroke="#7a0800" stroke-width="0.9"/>
<circle cx="319.7" cy="233.8" r="9.2" fill="url(#ge)" stroke="#8a3204" stroke-width="1.1"/>
</g>
<!-- panel f -->
<g clip-path="url(#cf)">
<rect x="389" y="207" width="108" height="51" fill="#ff3a0c"/>
<ellipse cx="443.5" cy="238" rx="48" ry="34" fill="url(#glowf)"/>
<rect x="389.3" y="248.1" width="106.3" height="9.7" fill="#fb220a"/>
<rect x="409.2" y="243.7" width="67.7" height="4.4" fill="#f2260a" stroke="#6a0c00" stroke-width="0.8"/>
<path d="M412 246.6H433M455 246.6H474" stroke="#8a1800" stroke-width="0.5" stroke-dasharray="1.2 1" opacity="0.7"/>
<path d="M389.3 248.1H495.6" stroke="#760800" stroke-width="0.9"/>
<g filter="url(#bl)">
<ellipse cx="432.6" cy="242.6" rx="3.6" ry="2.2" fill="#ffd020"/>
<ellipse cx="454.4" cy="242.6" rx="3.6" ry="2.2" fill="#ffd020"/>
</g>
<path d="M434.8 243.7H452.4Q452.6 248.3 443.6 248.7Q434.6 248.3 434.8 243.7Z" fill="#ff9624" stroke="#7a2800" stroke-width="0.7"/>
<g filter="url(#bl2)">
<circle cx="434.5" cy="242.6" r="1.5" fill="#58e038"/><circle cx="452.5" cy="242.6" r="1.5" fill="#58e038"/>
</g>
<circle cx="443.5" cy="233.8" r="9.3" fill="url(#gf)" stroke="#6a3004" stroke-width="1.0"/>
</g>
<rect x="501" y="207" width="2.9" height="50.2" fill="url(#cb)"/>
<g font-family="'Liberation Sans', sans-serif" fill="#111" stroke="#111" stroke-width="0.15">
<text x="504.6" y="212.5" font-size="8.4">Max</text>
<text x="504.6" y="257.6" font-size="8.3">Min</text>
</g>
<g font-family="'Liberation Serif', serif" font-size="13" fill="#000" stroke="#000" stroke-width="0.2">
<text x="0.2" y="216.9">(c)</text>
<text x="126.2" y="216.8">(d)</text>
<text x="249.5" y="216.9">(e)</text>
<text x="374.5" y="216.9">(f)</text>
</g>

</svg>
</body></html>
